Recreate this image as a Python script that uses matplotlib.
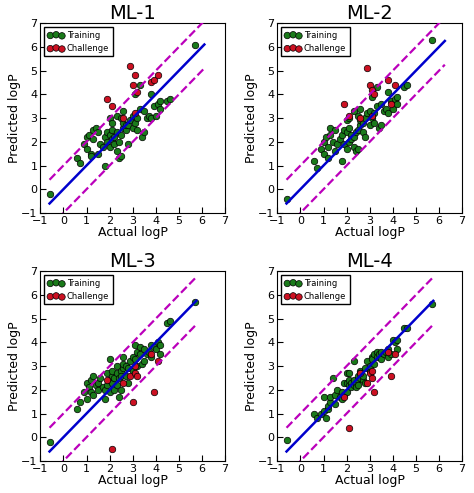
import numpy as np
import matplotlib.pyplot as plt

# actual logP (same molecules in every model)
train_x = [-0.6, 0.6, 0.7, 0.9, 1.0, 1.0, 1.1, 1.2, 1.2, 1.3, 1.3, 1.4, 1.5, 1.5, 1.6, 1.7,
           1.8, 1.8, 1.9, 1.9, 2.0, 2.0, 2.0, 2.1, 2.1, 2.1, 2.2, 2.2, 2.3, 2.3, 2.3, 2.4,
           2.4, 2.5, 2.5, 2.5, 2.6, 2.6, 2.6, 2.7, 2.7, 2.8, 2.8, 2.9, 3.0, 3.0, 3.1, 3.1,
           3.2, 3.2, 3.3, 3.3, 3.4, 3.5, 3.5, 3.6, 3.7, 3.8, 3.8, 3.9, 4.0, 4.1, 4.2, 4.2,
           4.5, 4.6, 5.7]
chal_x = [1.9, 2.1, 2.6, 2.9, 3.0, 3.1, 3.1, 3.2, 3.8, 3.9, 4.1]

train_y = {
    'ML-1': [-0.2, 1.3, 1.1, 1.9, 2.2, 1.7, 2.3, 1.5, 1.4, 2.1, 2.5, 2.6, 2.4, 1.5, 1.9, 1.8,
             2.2, 1.0, 2.4, 2.0, 3.0, 2.3, 1.8, 2.1, 2.5, 2.8, 2.2, 1.9, 2.4, 3.1, 1.6, 1.3,
             2.0, 1.4, 3.0, 2.3, 2.6, 2.8, 3.3, 2.5, 2.7, 1.9, 2.7, 2.9, 2.6, 3.1, 4.0, 2.8,
             3.0, 2.5, 4.4, 3.4, 2.2, 2.4, 3.3, 3.0, 3.1, 4.0, 3.0, 3.5, 3.1, 3.6, 3.7, 3.4,
             3.7, 3.8, 6.1],
    'ML-2': [-0.4, 1.2, 0.9, 1.7, 2.0, 1.5, 2.2, 1.8, 1.3, 2.3, 2.6, 2.0, 2.5, 1.6, 1.9, 2.1,
             2.3, 1.2, 2.5, 1.9, 2.9, 2.4, 1.7, 2.0, 2.6, 3.0, 2.3, 2.1, 2.2, 3.3, 1.8, 1.6,
             2.4, 1.7, 3.1, 2.5, 2.7, 2.9, 3.4, 2.4, 2.8, 2.2, 3.0, 3.2, 2.7, 3.3, 3.9, 3.0,
             3.2, 2.8, 4.3, 3.5, 2.6, 2.7, 3.6, 3.3, 3.4, 4.1, 3.2, 3.7, 3.4, 3.8, 3.9, 3.6,
             4.3, 4.4, 6.3],
    'ML-3': [-0.2, 1.2, 1.5, 1.9, 2.3, 1.6, 2.1, 1.9, 2.4, 1.8, 2.6, 2.2, 2.3, 2.0, 2.5, 2.1,
             2.0, 1.6, 2.7, 2.2, 3.3, 2.4, 1.9, 2.6, 2.8, 2.3, 2.5, 2.0, 2.7, 3.0, 2.2, 1.7,
             2.5, 2.0, 2.8, 2.6, 2.9, 3.1, 3.4, 2.6, 3.0, 2.3, 2.9, 3.2, 2.8, 3.4, 3.9, 3.3,
             3.6, 3.0, 3.8, 3.5, 3.1, 3.2, 3.7, 3.5, 3.6, 3.9, 3.4, 3.8, 3.7, 4.0, 3.9, 3.5,
             4.8, 4.9, 5.7],
    'ML-4': [-0.1, 1.0, 0.8, 1.0, 1.7, 1.1, 0.8, 1.2, 1.3, 1.5, 1.7, 2.5, 1.8, 1.4, 2.0, 1.7,
             1.9, 1.6, 2.3, 1.8, 2.7, 2.3, 1.9, 2.2, 2.4, 2.7, 2.3, 2.1, 2.4, 3.2, 2.2, 2.3,
             2.1, 2.4, 2.6, 2.2, 2.8, 2.5, 2.7, 2.4, 2.6, 2.3, 2.9, 3.2, 2.8, 3.0, 3.4, 3.3,
             3.5, 3.1, 3.6, 3.4, 3.5, 3.6, 3.3, 3.5, 3.6, 3.7, 3.4, 3.5, 4.1, 4.0, 4.1, 3.7,
             4.6, 4.6, 5.6],
}
chal_y = {
    'ML-1': [3.8, 3.5, 3.0, 5.2, 4.4, 4.8, 3.2, 4.1, 4.5, 4.6, 4.8],
    'ML-2': [3.6, 3.1, 3.0, 5.1, 4.4, 4.2, 3.1, 4.0, 4.6, 3.6, 4.4],
    'ML-3': [2.4, -0.5, 2.3, 2.6, 1.5, 2.7, 3.0, 2.6, 3.5, 1.9, 3.2],
    'ML-4': [1.7, 0.4, 2.7, 2.3, 2.7, 2.5, 2.8, 1.9, 3.6, 2.6, 3.5],
}
line_end = {'ML-1': 6.1, 'ML-2': 6.25, 'ML-3': 5.75, 'ML-4': 5.75}

fig = plt.figure(figsize=(4.74, 4.93), dpi=100)
boxes = {'ML-1': [0.085, 0.568, 0.39, 0.385], 'ML-2': [0.585, 0.568, 0.39, 0.385],
         'ML-3': [0.085, 0.065, 0.39, 0.385], 'ML-4': [0.585, 0.065, 0.39, 0.385]}

for name, box in boxes.items():
    ax = fig.add_axes(box)
    lx = np.array([-0.6, line_end[name]])
    ax.plot(lx, lx, color='#0000cc', lw=1.8, zorder=3)
    ax.plot(lx, lx + 1, color='#bb00bb', lw=1.6, ls='--', zorder=3)
    ax.plot(lx, lx - 1, color='#bb00bb', lw=1.6, ls='--', zorder=3)
    ax.scatter(train_x, train_y[name], s=22, c='#1a7a1a', edgecolors='black', lw=0.5,
               label='Training', zorder=2)
    ax.scatter(chal_x, chal_y[name], s=22, c='#cc1122', edgecolors='black', lw=0.5,
               label='Challenge', zorder=2)
    ax.set_xlim(-1, 7)
    ax.set_ylim(-1, 7)
    ax.set_xticks(range(-1, 8))
    ax.set_yticks(range(-1, 8))
    ax.tick_params(labelsize=8, direction='in', length=4, pad=2)
    ax.set_title(name, fontsize=14, pad=2)
    ax.set_xlabel('Actual logP', fontsize=9, labelpad=0)
    ax.set_ylabel('Predicted logP', fontsize=9, labelpad=0)
    ax.legend(loc='upper left', scatterpoints=3, fontsize=6, handletextpad=0.3,
              borderpad=0.4, fancybox=False, edgecolor='black', framealpha=1)

fig.savefig('out.png', dpi=100)
